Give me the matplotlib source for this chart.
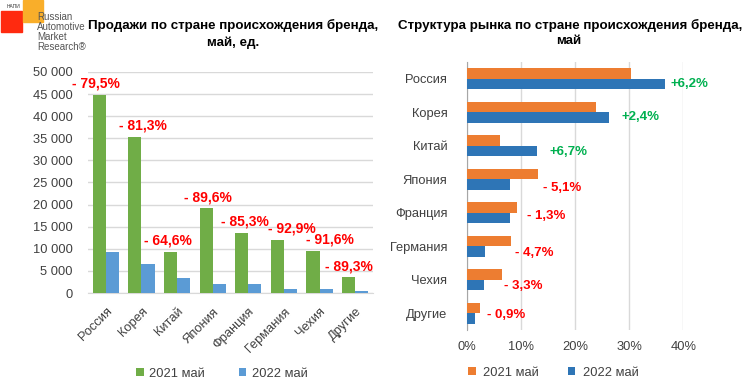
import matplotlib
matplotlib.use("Agg")
import matplotlib.pyplot as plt
from matplotlib import font_manager
from matplotlib.patches import Rectangle
from matplotlib.ticker import FuncFormatter
import numpy as np

countries = ["Россия", "Корея", "Китай", "Япония", "Франция", "Германия", "Чехия", "Другие"]

# sales, units
sales_2021 = [44800, 35300, 9300, 19200, 13600, 12000, 9500, 3600]
sales_2022 = [9200, 6600, 3300, 2000, 2000, 850, 800, 385]
sales_change = ["- 79,5%", "- 81,3%", "- 64,6%", "- 89,6%", "- 85,3%", "- 92,9%", "- 91,6%", "- 89,3%"]

# market share, %
share_2021 = [30.4, 23.9, 6.2, 13.1, 9.3, 8.1, 6.5, 2.4]
share_2022 = [36.6, 26.3, 12.9, 8.0, 8.0, 3.4, 3.2, 1.5]
share_change = ["+6,2%", "+2,4%", "+6,7%", "- 5,1%", "- 1,3%", "- 4,7%", "- 3,3%", "- 0,9%"]

FONT = "Liberation Sans"
names = {f.name for f in font_manager.fontManager.ttflist}
NARROW = "Liberation Sans Narrow" if "Liberation Sans Narrow" in names else FONT
plt.rcParams["font.family"] = [FONT, "DejaVu Sans"]

GRID = "#d9d9d9"
TXT = "#404040"
RED = "#ff0000"
GREEN_TXT = "#00b050"
TICK_FS = 9.3

W, H = 744, 380
fig = plt.figure(figsize=(W / 100, H / 100), dpi=100)


def fbox(x0, y0, x1, y1):
    # pixel box (top-left origin) -> figure fractions
    return [x0 / W, 1 - y1 / H, (x1 - x0) / W, (y1 - y0) / H]


# ===== logo =====
fig.patches.append(Rectangle((1 / W, 1 - 32 / H), 21 / W, 21 / H,
                             transform=fig.transFigure, color="#ff2a0f", zorder=1))
fig.patches.append(Rectangle((23 / W, 1 - 22 / H), 20 / W, 22 / H,
                             transform=fig.transFigure, color="#f9ae2a", zorder=1))
fig.text(7 / W, 1 - 7 / H, "НАПИ", fontsize=3.5, color="#333333", va="center", family=NARROW)
for k, word in enumerate(["Russian", "Automotive", "Market", "Research®"]):
    fig.text(37 / W, 1 - (17 + 10 * k) / H, word, fontsize=7, color="#555555",
             va="center", family=NARROW, zorder=3)

# ===== left chart: sales =====
ax1 = fig.add_axes(fbox(88, 72, 373, 293))
x = np.arange(len(countries))
bw = 0.37
ax1.bar(x - bw / 2, sales_2021, bw, color="#70ad47", label="2021 май", zorder=3)
ax1.bar(x + bw / 2, sales_2022, bw, color="#5b9bd5", label="2022 май", zorder=3)
ax1.set_xlim(-0.5, len(countries) - 0.5)
ax1.set_ylim(0, 50000)
ax1.set_yticks(range(0, 50001, 5000))
ax1.yaxis.set_major_formatter(FuncFormatter(lambda v, p: f"{int(v):,}".replace(",", " ")))
ax1.set_xticks(x)
ax1.set_xticklabels(countries, rotation=45, ha="right", rotation_mode="anchor")
ax1.tick_params(axis="both", length=0, labelsize=TICK_FS, colors=TXT)
ax1.tick_params(axis="x", pad=9)
ax1.tick_params(axis="y", pad=11)
ax1.grid(axis="y", color=GRID, linewidth=1, zorder=0)
for s in ["top", "right", "left"]:
    ax1.spines[s].set_visible(False)
ax1.spines["bottom"].set_color(GRID)

label_dx = [-0.27, 0.03, -0.27, -0.14, -0.1, 0.23, 0.3, -0.17]
for i, (v, txt) in enumerate(zip(sales_2021, sales_change)):
    ax1.text(i + label_dx[i], v + 2500, txt, color=RED, fontsize=10,
             fontweight="bold", ha="center", va="center", zorder=4)

fig.text(233 / W, 1 - 25 / H, "Продажи по стране происхождения бренда,",
         ha="center", va="center", fontsize=9.6, fontweight="bold", color="#000000")
fig.text(233 / W, 1 - 43 / H, "май, ед.",
         ha="center", va="center", fontsize=9.6, fontweight="bold", color="#000000")

ax1.legend(loc="center", bbox_to_anchor=(0.47, -0.365), ncol=2, frameon=False,
           fontsize=TICK_FS, handlelength=0.6, handleheight=0.6, columnspacing=2.6,
           handletextpad=0.4, labelcolor=TXT)

# ===== right chart: market share =====
ax2 = fig.add_axes(fbox(466.7, 62, 683.3, 330))
y = np.arange(len(countries))
bh = 0.31
ax2.barh(y - bh / 2, share_2021, bh, color="#ed7d31", label="2021 май", zorder=3)
ax2.barh(y + bh / 2, share_2022, bh, color="#2e75b6", label="2022 май", zorder=3)
ax2.set_ylim(len(countries) - 0.5, -0.5)
ax2.set_xlim(0, 40)
ax2.set_xticks(range(0, 41, 10))
ax2.xaxis.set_major_formatter(FuncFormatter(lambda v, p: f"{int(v)}%"))
ax2.set_yticks(y)
ax2.set_yticklabels(countries)
ax2.tick_params(axis="both", length=0, labelsize=TICK_FS, colors=TXT)
ax2.tick_params(axis="y", pad=14)
ax2.tick_params(axis="x", pad=8)
ax2.grid(axis="x", color=GRID, linewidth=1, zorder=0)
for s in ["top", "right", "bottom"]:
    ax2.spines[s].set_visible(False)
ax2.spines["left"].set_color("#a6a6a6")

share_dx = [1.1, 2.3, 2.4, 6.1, 3.1, 5.5, 3.7, 2.2]
share_dy = [0.15, 0.15, 0.2, 0.25, 0.1, 0.2, 0.2, 0.05]
for i, (v, txt) in enumerate(zip(share_2022, share_change)):
    col = GREEN_TXT if txt.startswith("+") else RED
    ax2.text(v + share_dx[i], i + share_dy[i], txt, color=col, fontsize=9.5,
             fontweight="bold", ha="left", va="center", zorder=4)

fig.text(570 / W, 1 - 25 / H, "Структура рынка по стране происхождения бренда,",
         ha="center", va="center", fontsize=9.6, fontweight="bold", color="#000000")
fig.text(569 / W, 1 - 41 / H, "май",
         ha="center", va="center", fontsize=9.6, fontweight="bold", color="#000000")

ax2.legend(loc="center", bbox_to_anchor=(0.40, -0.16), ncol=2, frameon=False,
           fontsize=TICK_FS, handlelength=0.6, handleheight=0.6, columnspacing=2.2,
           handletextpad=0.6, labelcolor=TXT)

fig.savefig("out.png", dpi=100, facecolor="white")
